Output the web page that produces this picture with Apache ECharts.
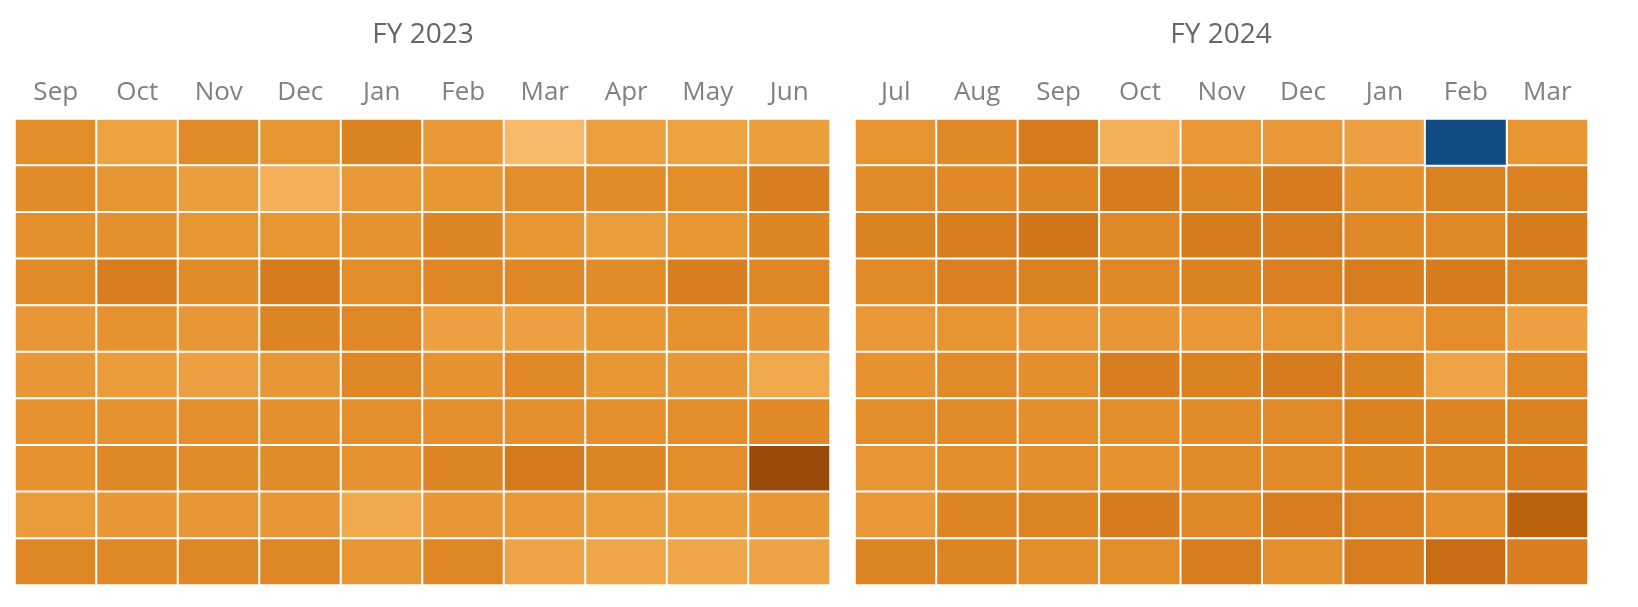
<!DOCTYPE html>
<html>
<head>
<meta charset="utf-8">
<script src="https://cdn.jsdelivr.net/npm/echarts@6/dist/echarts.min.js"></script>
<style>
html,body{margin:0;padding:0;background:#fff;}
#chart{width:1638px;height:607px;}
</style>
</head>
<body>
<div id="chart"></div>
<script>
const titles = ['FY 2023', 'FY 2024'];
const months2023 = ['Sep','Oct','Nov','Dec','Jan','Feb','Mar','Apr','May','Jun'];
const months2024 = ['Jul','Aug','Sep','Oct','Nov','Dec','Jan','Feb','Mar'];
const rowLabels = ['1','2','3','4','5','6','7','8','9','10'];

// intensity values (rows top to bottom, columns by month)
const fy2023 = [
  [40,22,42,32,50,29, 0,24,22,25],
  [42,34,25,10,30,32,40,41,40,55],
  [37,37,32,32,35,47,32,26,32,47],
  [42,55,41,58,40,45,45,41,54,45],
  [31,35,31,47,44,23,23,32,36,31],
  [31,27,23,31,45,35,43,32,31,16],
  [35,35,38,37,38,38,38,38,40,44],
  [35,45,41,41,35,47,60,47,40,100],
  [27,31,31,31,15,31,30,26,26,31],
  [45,44,45,45,31,45,20,18,17,21]
];
const fy2024 = [
  [34,43,57, 9,30,30,23,null,32],
  [42,43,48,57,47,57,37,51,51],
  [50,56,63,44,57,56,44,44,57],
  [42,52,51,43,50,53,56,57,51],
  [30,34,30,31,30,34,30,40,23],
  [35,42,39,55,51,57,50,20,44],
  [40,42,39,39,41,42,51,48,51],
  [31,39,39,35,42,42,48,48,57],
  [30,48,48,57,44,56,53,39,80],
  [48,48,39,39,56,37,56,70,55]
];
// highlighted cell in FY 2024: [month index, row index]
const highlight2024 = [[7, 0]];

function toCells(matrix) {
  const out = [];
  matrix.forEach((row, r) => row.forEach((v, c) => { if (v !== null) out.push([c, r, v]); }));
  return out;
}

const fontFamily = "'Segoe UI','Open Sans','Noto Sans',sans-serif";
const chart = echarts.init(document.getElementById('chart'), null, {renderer: 'canvas'});

const xAxisBase = {
  type: 'category', position: 'top',
  axisLine: {show: false}, axisTick: {show: false}, splitLine: {show: false},
  axisLabel: {color: '#808080', fontSize: 26, margin: 13, fontFamily: fontFamily}
};
const yAxisBase = {
  type: 'category', data: rowLabels, inverse: true, show: false
};
const cellStyle = {borderColor: '#ffffff', borderWidth: 2};

chart.setOption({
  animation: false,
  backgroundColor: '#ffffff',
  title: [
    {text: titles[0], left: 418, top: 16, textAlign: 'center',
     textStyle: {color: '#666666', fontSize: 28, fontWeight: 'normal', fontFamily: fontFamily}},
    {text: titles[1], left: 1216, top: 16, textAlign: 'center',
     textStyle: {color: '#666666', fontSize: 28, fontWeight: 'normal', fontFamily: fontFamily}}
  ],
  grid: [
    {left: 15, top: 119, width: 815, height: 466},
    {left: 855, top: 119, width: 733, height: 466}
  ],
  xAxis: [
    Object.assign({}, xAxisBase, {gridIndex: 0, data: months2023}),
    Object.assign({}, xAxisBase, {gridIndex: 1, data: months2024})
  ],
  yAxis: [
    Object.assign({}, yAxisBase, {gridIndex: 0}),
    Object.assign({}, yAxisBase, {gridIndex: 1})
  ],
  visualMap: {
    type: 'continuous', show: false, min: 0, max: 100, seriesIndex: [0, 1],
    inRange: {color: ['#F8B96A','#F3AE57','#EEA445','#E89837','#E38C2A','#DB8223','#D4781C','#C86D15','#BC620F','#AB560B','#9A4A08']}
  },
  series: [
    {type: 'heatmap', xAxisIndex: 0, yAxisIndex: 0, data: toCells(fy2023), itemStyle: cellStyle},
    {type: 'heatmap', xAxisIndex: 1, yAxisIndex: 1, data: toCells(fy2024), itemStyle: cellStyle},
    {type: 'heatmap', xAxisIndex: 1, yAxisIndex: 1, data: highlight2024.map(p => [p[0], p[1], 1]),
     itemStyle: {color: '#134C84', borderColor: '#ffffff', borderWidth: 2}}
  ]
});
</script>
</body>
</html>
